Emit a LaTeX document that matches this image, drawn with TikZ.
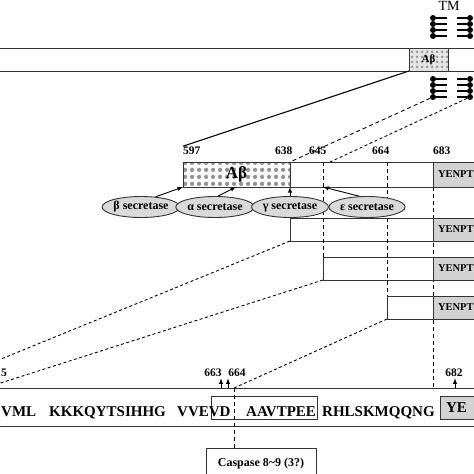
\documentclass[tikz,border=0pt]{standalone}
\usepackage{fontspec}
\setmainfont{Liberation Serif}
\usetikzlibrary{shapes, arrows, positioning, patterns}

\pgfdeclarepatternformonly{bigdots}{\pgfpointorigin}{\pgfpoint{7pt}{7pt}}{\pgfpoint{7pt}{7pt}}{%
  \pgfpathcircle{\pgfpoint{3.5pt}{3.5pt}}{2.4pt}\pgfusepath{fill}}
\pgfdeclarepatternformonly{smalldots}{\pgfpointorigin}{\pgfpoint{4.5pt}{4.5pt}}{\pgfpoint{4.5pt}{4.5pt}}{%
  \pgfpathcircle{\pgfpoint{2.25pt}{2.25pt}}{1.5pt}\pgfusepath{fill}}

\newcommand{\ptsize}[1]{\fontsize{#1}{#1}\selectfont}

\begin{document}
\begin{tikzpicture}[>=latex, x=1pt, y=-1pt,
    seg/.style={draw=black!80, line width=1pt, inner sep=0pt, outer sep=0pt, anchor=north west},
    yenbox/.style={seg, fill=gray!35, text width=46pt, inner xsep=5pt, align=left, font=\ptsize{10.5}\bfseries},
    num/.style={inner sep=0pt, anchor=base west, font=\ptsize{11.5}\bfseries},
    enzyme/.style={draw=black!80, line width=0.9pt, ellipse, fill=gray!30, minimum width=72pt, minimum height=21pt, inner sep=0pt, font=\ptsize{12}\bfseries},
    lipid/.style={circle, fill=black, inner sep=0pt, minimum size=6pt},
    seq/.style={inner sep=0pt, anchor=base west, font=\ptsize{15}\bfseries},
    cut/.style={dash pattern=on 4pt off 3pt, line width=0.9pt},
    map/.style={dash pattern=on 3pt off 2.5pt, line width=0.9pt}]
    \useasboundingbox (0,0) rectangle (474,474);
    \clip (0,0) rectangle (474,474);

    % full length APP with TM region
    \node[num, anchor=base, font=\ptsize{14}] (tm) at (449,10) {TM};
    \foreach \y [count=\i] in {18,24,30,36} {
      \node[lipid] (tl\i) at (433,\y) {};
      \node[lipid] (tr\i) at (470,\y) {};
      \draw[line width=1.2pt] (tl\i) -- ++(14,0);
      \draw[line width=1.2pt] (tr\i) -- ++(-13,0);
    }
    \foreach \y [count=\i] in {79,85,91,97} {
      \node[lipid] (bl\i) at (433,\y) {};
      \node[lipid] (br\i) at (470,\y) {};
      \draw[line width=1.2pt] (bl\i) -- ++(14,0);
      \draw[line width=1.2pt] (br\i) -- ++(-13,0);
    }
    \node[seg, minimum width=500pt, minimum height=23pt] (app) at (-10,48) {};
    \node[seg, preaction={fill=gray!20}, pattern=smalldots, pattern color=gray!85, minimum width=39pt, minimum height=23pt, font=\ptsize{11}\bfseries] (abtm) at (409,48) {Aβ};

    % C-terminal fragments
    \draw[cut] (433,187) -- (433,388);
    \node[seg, pattern=bigdots, pattern color=gray!85, minimum width=107pt, minimum height=25pt, font=\ptsize{17}\bfseries] (ab1) at (183,162) {Aβ};
    \node[seg, minimum width=143pt, minimum height=25pt] (ctf1) at (290,162) {};
    \node[yenbox, minimum height=25pt] (yen1) at (433,162) {YENPT};
    \node[seg, minimum width=143pt, minimum height=23pt] (ctf2) at (290,218) {};
    \node[yenbox, minimum height=23pt] (yen2) at (433,218) {YENPT};
    \node[seg, minimum width=110pt, minimum height=23pt] (ctf3) at (323,257) {};
    \node[yenbox, minimum height=23pt] (yen3) at (433,257) {YENPT};
    \node[seg, minimum width=46pt, minimum height=23pt] (ctf4) at (387,296) {};
    \node[yenbox, minimum height=23pt] (yen4) at (433,296) {YENPT};

    \node[num] (l597) at (183,154) {597};
    \node[num] (l638) at (275,154) {638};
    \node[num] (l645) at (309,154) {645};
    \node[num] (l664) at (372,154) {664};
    \node[num] (l683) at (433,154) {683};

    \draw[line width=1.1pt] (abtm.south west) -- (l597.north west);
    \draw[cut] (bl4) -- (ctf1.north west);
    \coordinate (tmend) at (330,162);
    \draw[map] (br4) -- (tmend);

    \draw[cut] (ctf3.north west |- ctf1.north) -- (ctf3.north west);
    \draw[cut] (ctf4.north west |- ctf1.north) -- (ctf4.north west);

    % secretases
    \node[enzyme] (beta) at (141,207) {β secretase};
    \node[enzyme] (alpha) at (215,207) {α secretase};
    \node[enzyme] (gamma) at (290,207) {γ secretase};
    \node[enzyme] (eps) at (367,207) {ε secretase};
    \coordinate (acut) at (236,187);
    \coordinate (ecut) at (323,187);
    \draw[->, line width=0.9pt] (beta.35) -- (ab1.south west);
    \draw[->, line width=0.9pt] (alpha.75) -- (acut);
    \draw[->, line width=0.9pt] (gamma.north) -- (ctf1.south west);
    \draw[->, line width=0.9pt] (eps.125) -- (ecut);

    % intracellular sequence
    \node[seg, minimum width=500pt, minimum height=38pt] (seqbar) at (-10,388) {};
    \node[seg, minimum width=106pt, minimum height=23pt] (site) at (211,396) {};
    \node[seg, fill=gray!35, text width=40pt, inner xsep=6pt, align=left, minimum height=23pt, font=\ptsize{15}\bfseries] (ye) at (440,396) {YE};
    \node[seq] (w1) at (1,416) {VML};
    \node[seq] (w2) at (49,416) {KKKQYTSIHHG};
    \node[seq] (w3) at (177,416) {VVEVD};
    \node[seq] (w4) at (246,416) {AAVTPEE};
    \node[seq] (w5) at (322,416) {RHLSKMQQNG};

    \coordinate (cs638) at (-70,388);
    \coordinate (cs645) at (-15,388);
    \coordinate (cs664) at (234,388);
    \draw[map] (ctf2.south west) -- (cs638);
    \draw[map] (ctf3.south west) -- (cs645);
    \draw[map] (ctf4.south west) -- (cs664);

    \node[num] (lstart) at (1,376) {5};
    \node[num, anchor=base] (l663b) at (213,376) {663};
    \node[num, anchor=base] (l664b) at (237,376) {664};
    \node[num, anchor=base] (l682) at (454,376) {682};
    \coordinate (p663) at (221,388);
    \coordinate (p664) at (228,388);
    \coordinate (p682) at (455,388);
    \draw[->, line width=0.9pt, shorten >=2pt] (p663) -- (p663 |- l663b.south);
    \draw[->, line width=0.9pt, shorten >=2pt] (p664) -- (p664 |- l664b.south);
    \draw[->, line width=0.9pt, shorten >=2pt] (p682) -- (p682 |- l682.south);

    % caspase cleavage
    \node[seg, minimum width=110pt, minimum height=36pt] (casp) at (206,448) {};
    \node[inner sep=0pt, anchor=base, font=\ptsize{12}\bfseries] (casptext) at (261,466) {Caspase 8\textasciitilde9 (3?)};
    \draw[cut] (cs664) -- (cs664 |- casp.north);
\end{tikzpicture}
\end{document}
